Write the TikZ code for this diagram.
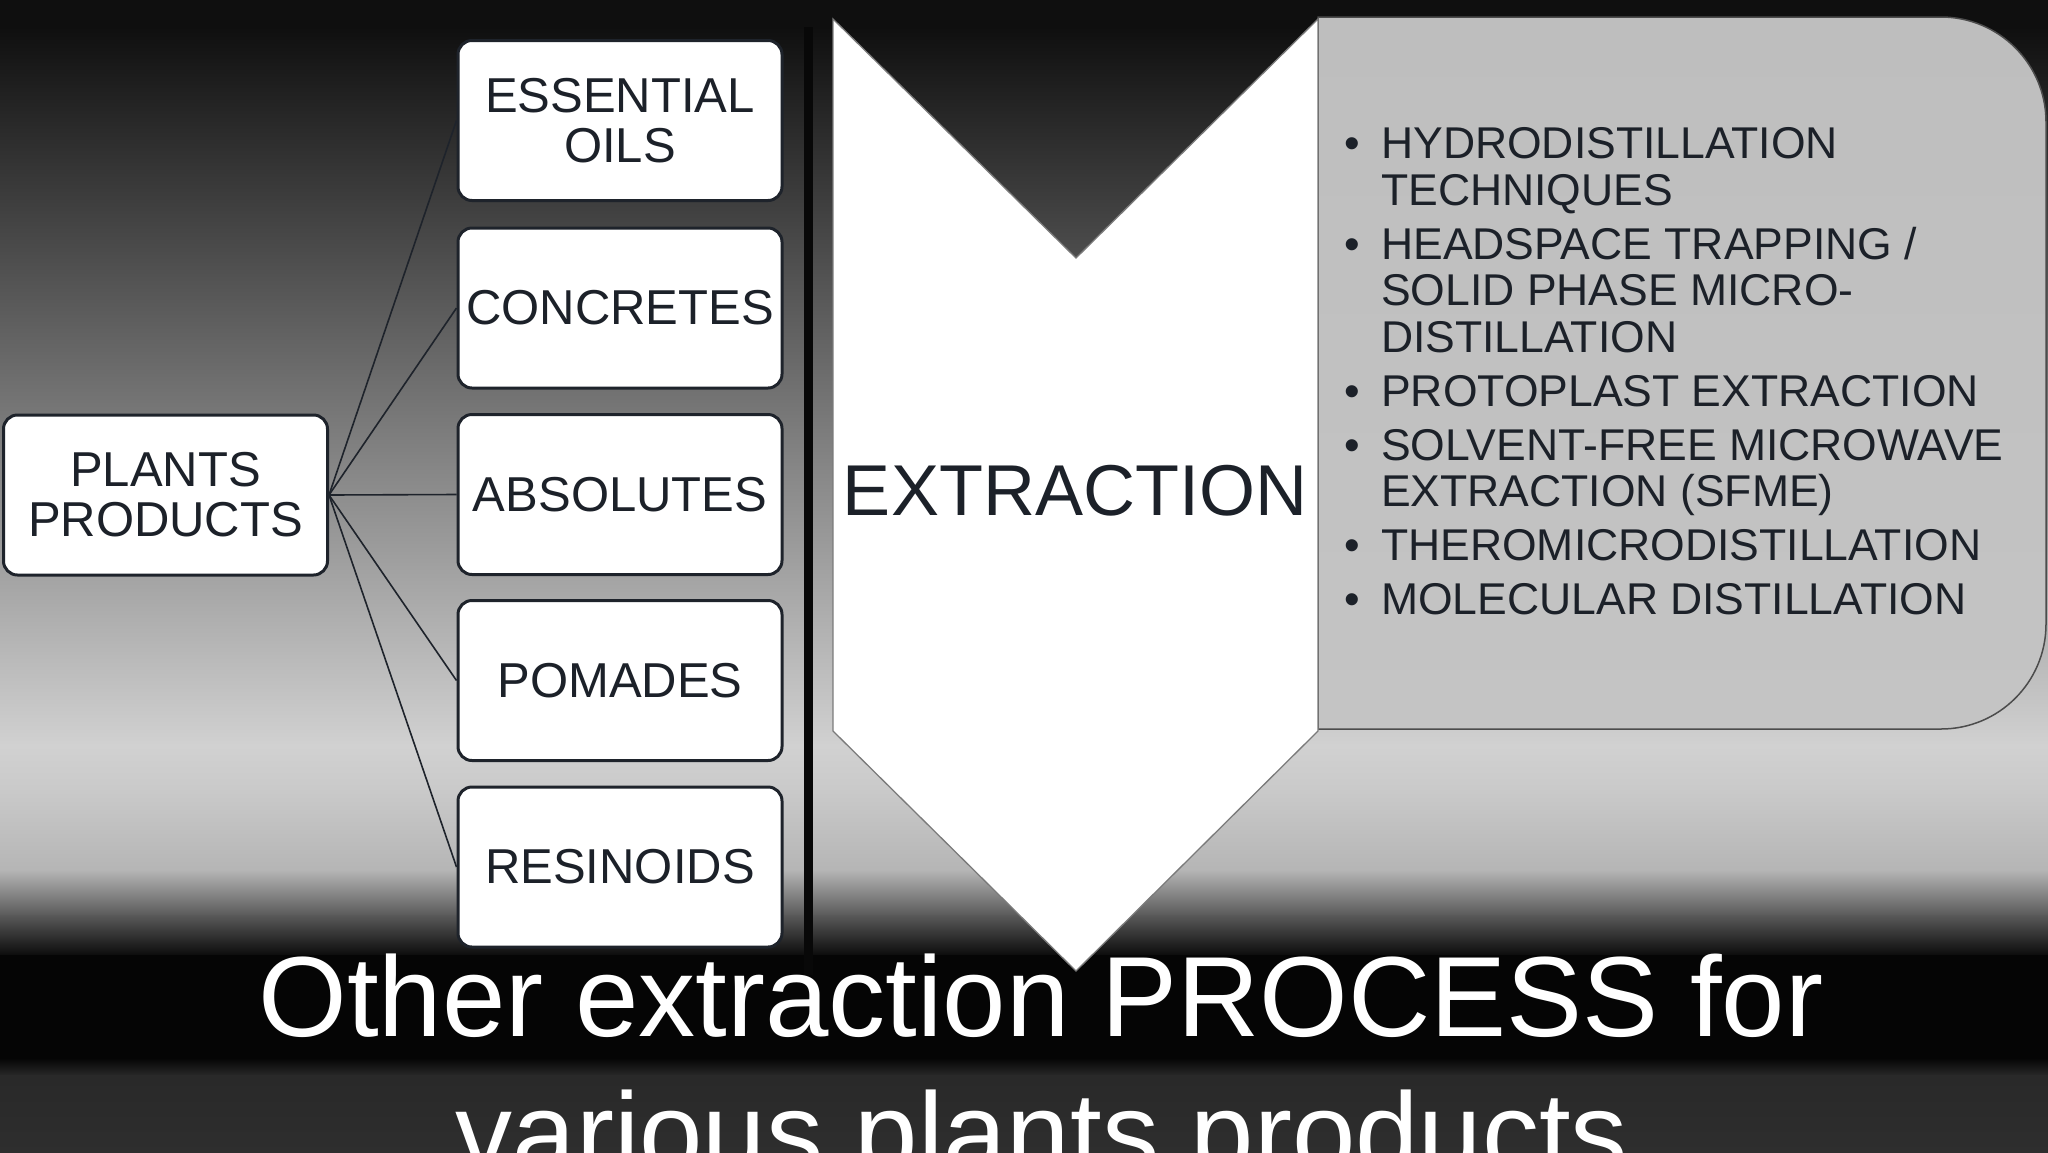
\documentclass[tikz,border=0pt]{standalone}
\usepackage{fontspec}
\setmainfont{Liberation Sans}
\definecolor{boxc}{HTML}{1E232B}
\definecolor{txtc}{HTML}{1C2129}
\definecolor{panelc}{HTML}{BEBEBE}
\definecolor{panelb}{HTML}{C4C4C4}
\definecolor{chevc}{HTML}{7A7A7A}
\tikzset{
  prodbox/.style={draw=boxc, line width=3pt, fill=white, rounded corners=14pt,
    minimum width=324pt, minimum height=160pt, align=center, text=txtc,
    font=\fontsize{49}{50}\selectfont, inner sep=0pt},
  link/.style={draw=boxc, line width=1.6pt},
  item/.style={anchor=base west, text=txtc, font=\fontsize{44.5}{46}\selectfont, inner sep=0pt},
  bul/.style={anchor=base, text=txtc, font=\fontsize{44.5}{46}\selectfont, inner sep=0pt},
  ttl/.style={anchor=base, text=white, font=\fontsize{114}{136}\selectfont, inner sep=0pt},
}
\begin{document}
\begin{tikzpicture}[x=1pt,y=-1pt]
\useasboundingbox (0,0) rectangle (2048,1152);
\clip (0,0) rectangle (2048,1152);
% background bands
\fill[black!94] (0,-1) rectangle (2048,29);
\shade[top color=black!94, bottom color=black!18] (0,28) rectangle (2048,746);
\shade[top color=black!18, bottom color=black!21] (0,745) rectangle (2048,791);
\shade[top color=black!21, bottom color=black!29] (0,790) rectangle (2048,871);
\shade[top color=black!29, bottom color=black!65] (0,870) rectangle (2048,916);
\shade[top color=black!65, bottom color=black!96] (0,915) rectangle (2048,956);
\fill[black!98] (0,955) rectangle (2048,1059);
\shade[top color=black!98, bottom color=black!84] (0,1058) rectangle (2048,1076);
\shade[top color=black!84, bottom color=black!82] (0,1075) rectangle (2048,1153);

% vertical bar
\fill[black!97] (804,27) rectangle (813,975);

% right panel
\draw[top color=panelc, bottom color=panelb, draw=black!70, line width=1.5pt]
  (1318,17) -- (1941,17) .. controls (1999,17) and (2046,64) .. (2046,122)
  -- (2046,624) .. controls (2046,682) and (1999,729) .. (1941,729)
  -- (1318,729) -- cycle;

% chevron
\draw[fill=white, draw=chevc, line width=1.3pt]
  (833,19) -- (1076,258) -- (1318,19) -- (1318,731) -- (1076,971) -- (833,731) -- cycle;
\node[text=txtc, font=\fontsize{72}{74}\selectfont, inner sep=0pt] (ext) at (1075,490.5) {EXTRACTION};

% product boxes
\node[prodbox] (pp) at (165.5,495) {PLANTS\\PRODUCTS};
\node[prodbox] (eo) at (620,120.5) {ESSENTIAL\\OILS};
\node[prodbox] (co) at (620,308) {CONCRETES};
\node[prodbox] (ab) at (620,494.5) {ABSOLUTES};
\node[prodbox] (po) at (620,680.5) {POMADES};
\node[prodbox] (re) at (620,867) {RESINOIDS};
\draw[link] (pp.east) -- (eo.west);
\draw[link] (pp.east) -- (co.west);
\draw[link] (pp.east) -- (ab.west);
\draw[link] (pp.east) -- (po.west);
\draw[link] (pp.east) -- (re.west);

% bullet list
\node[bul] (b1) at (1352,158.5) {•};
\node[item] (l1) at (1381,158.5) {HYDRODISTILLATION};
\node[item] (l2) at (1381,205) {TECHNIQUES};
\node[bul] (b2) at (1352,259) {•};
\node[item] (l3) at (1381,259) {HEADSPACE TRAPPING /};
\node[item] (l4) at (1381,305.5) {SOLID PHASE MICRO-};
\node[item] (l5) at (1381,352) {DISTILLATION};
\node[bul] (b3) at (1352,406) {•};
\node[item] (l6) at (1381,406) {PROTOPLAST EXTRACTION};
\node[bul] (b4) at (1352,460) {•};
\node[item] (l7) at (1381,460) {SOLVENT-FREE MICROWAVE};
\node[item] (l8) at (1381,506.5) {EXTRACTION (SFME)};
\node[bul] (b5) at (1352,560.5) {•};
\node[item] (l9) at (1381,560.5) {THEROMICRODISTILLATION};
\node[bul] (b6) at (1352,614.5) {•};
\node[item] (l10) at (1381,614.5) {MOLECULAR DISTILLATION};

% title
\node[ttl] (t1) at (1041,1036) {Other extraction PROCESS for};
\node[ttl] (t2) at (1042,1172) {various plants products};
\end{tikzpicture}
\end{document}
